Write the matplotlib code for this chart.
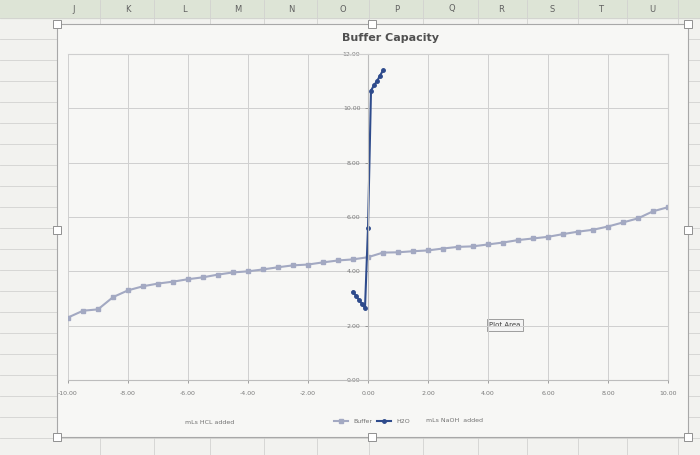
import matplotlib.pyplot as plt
from matplotlib.patches import Rectangle

# Buffer series (mL added, pH)
buffer_x = [-10.0, -9.5, -9.0, -8.5, -8.0, -7.5, -7.0, -6.5, -6.0, -5.5, -5.0,
            -4.5, -4.0, -3.5, -3.0, -2.5, -2.0, -1.5, -1.0, -0.5, 0.0,
            0.5, 1.0, 1.5, 2.0, 2.5, 3.0, 3.5, 4.0, 4.5, 5.0,
            5.5, 6.0, 6.5, 7.0, 7.5, 8.0, 8.5, 9.0, 9.5, 10.0]
buffer_y = [2.30, 2.55, 2.60, 3.05, 3.30, 3.45, 3.55, 3.62, 3.71, 3.78, 3.88,
            3.96, 4.00, 4.07, 4.15, 4.22, 4.25, 4.33, 4.40, 4.44, 4.52,
            4.69, 4.70, 4.74, 4.77, 4.84, 4.90, 4.92, 4.99, 5.06, 5.15,
            5.21, 5.27, 5.37, 5.46, 5.53, 5.65, 5.80, 5.95, 6.21, 6.36]

# H2O series
h2o_x = [-0.5, -0.4, -0.3, -0.2, -0.1, 0.0, 0.1, 0.2, 0.3, 0.4, 0.5]
h2o_y = [3.25, 3.10, 2.95, 2.80, 2.65, 5.60, 10.65, 10.85, 11.00, 11.20, 11.40]

x_ticks = [-10, -8, -6, -4, -2, 0, 2, 4, 6, 8, 10]
y_ticks = [0, 2, 4, 6, 8, 10, 12]
col_letters = ["J", "K", "L", "M", "N", "O", "P", "Q", "R", "S", "T", "U"]
col_centers = [74, 128, 184, 238, 291, 343, 397, 452, 501, 552, 601, 652]

W, H = 700, 455
fig = plt.figure(figsize=(7, 4.55), dpi=100)
fig.patch.set_facecolor("#f2f2ef")

# spreadsheet background in pixel coordinates
bg = fig.add_axes([0, 0, 1, 1], zorder=0)
bg.set_xlim(0, W)
bg.set_ylim(H, 0)
bg.axis("off")
bg.add_patch(Rectangle((0, 0), W, 18, color="#dde4d6"))
for c, lab in zip(col_centers, col_letters):
    bg.text(c, 9, lab, ha="center", va="center", fontsize=6, color="#606060")
    bg.plot([c + 26, c + 26], [0, H], color="#d2d2d0", lw=0.6)
for yy in range(18, H, 21):
    bg.plot([0, W], [yy, yy], color="#d2d2d0", lw=0.6)
# chart area
bg.add_patch(Rectangle((57, 24), 631, 413, facecolor="#f7f7f5",
                       edgecolor="#a8a8a8", lw=0.8, zorder=2))
for hx, hy in [(57, 24), (372, 24), (688, 24), (57, 230), (688, 230),
               (57, 437), (372, 437), (688, 437)]:
    bg.add_patch(Rectangle((hx - 4, hy - 4), 8, 8, facecolor="white",
                           edgecolor="#909090", lw=0.7, zorder=3))
bg.text(390, 38, "Buffer Capacity", ha="center", va="center", fontsize=8,
        fontweight="semibold", color="#505050", zorder=4)
bg.text(210, 423, "mLs HCL added", ha="center", va="center", fontsize=4.5,
        color="#707070", zorder=4)
bg.text(455, 420, "mLs NaOH  added", ha="center", va="center", fontsize=4.5,
        color="#707070", zorder=4)

ax = fig.add_axes([68 / W, 1 - 380 / H, 600 / W, 326 / H], zorder=1)
ax.patch.set_alpha(0)
ax.plot(buffer_x, buffer_y, color="#a3a9c2", lw=1.5, marker="s",
        markersize=2.5, label="Buffer")
ax.plot(h2o_x, h2o_y, color="#2e4b8c", lw=1.5, marker="o",
        markersize=2.5, label="H2O")

ax.set_xlim(-10, 10)
ax.set_ylim(0, 12)
ax.set_xticks(x_ticks)
ax.set_yticks(y_ticks)
ax.set_xticklabels([f"{v:.2f}" for v in x_ticks])
ax.set_yticklabels([f"{v:.2f}" for v in y_ticks])
ax.grid(True, color="#cfcfcf", lw=0.7)
ax.set_axisbelow(True)
ax.spines["left"].set_position(("data", 0))
ax.spines["left"].set_color("#bdbdbd")
ax.spines["bottom"].set_color("#bdbdbd")
ax.spines["top"].set_color("#cfcfcf")
ax.spines["right"].set_color("#cfcfcf")
ax.tick_params(axis="both", labelsize=4.5, colors="#7a7a7a", length=2,
               width=0.5)
ax.tick_params(axis="x", pad=6)

ax.legend(loc="center", bbox_to_anchor=(372 / W, 1 - 421 / H),
          bbox_transform=fig.transFigure, ncol=2, frameon=False,
          fontsize=4.5, handlelength=2.2, columnspacing=0.8,
          labelcolor="#707070")

# tooltip
bg.text(505, 325, "Plot Area", ha="center", va="center", fontsize=5,
        color="#404040", zorder=5,
        bbox=dict(boxstyle="square,pad=0.4", facecolor="#f4f4f4",
                  edgecolor="#909090", lw=0.6))

fig.savefig("out.png", dpi=100, facecolor=fig.get_facecolor())
